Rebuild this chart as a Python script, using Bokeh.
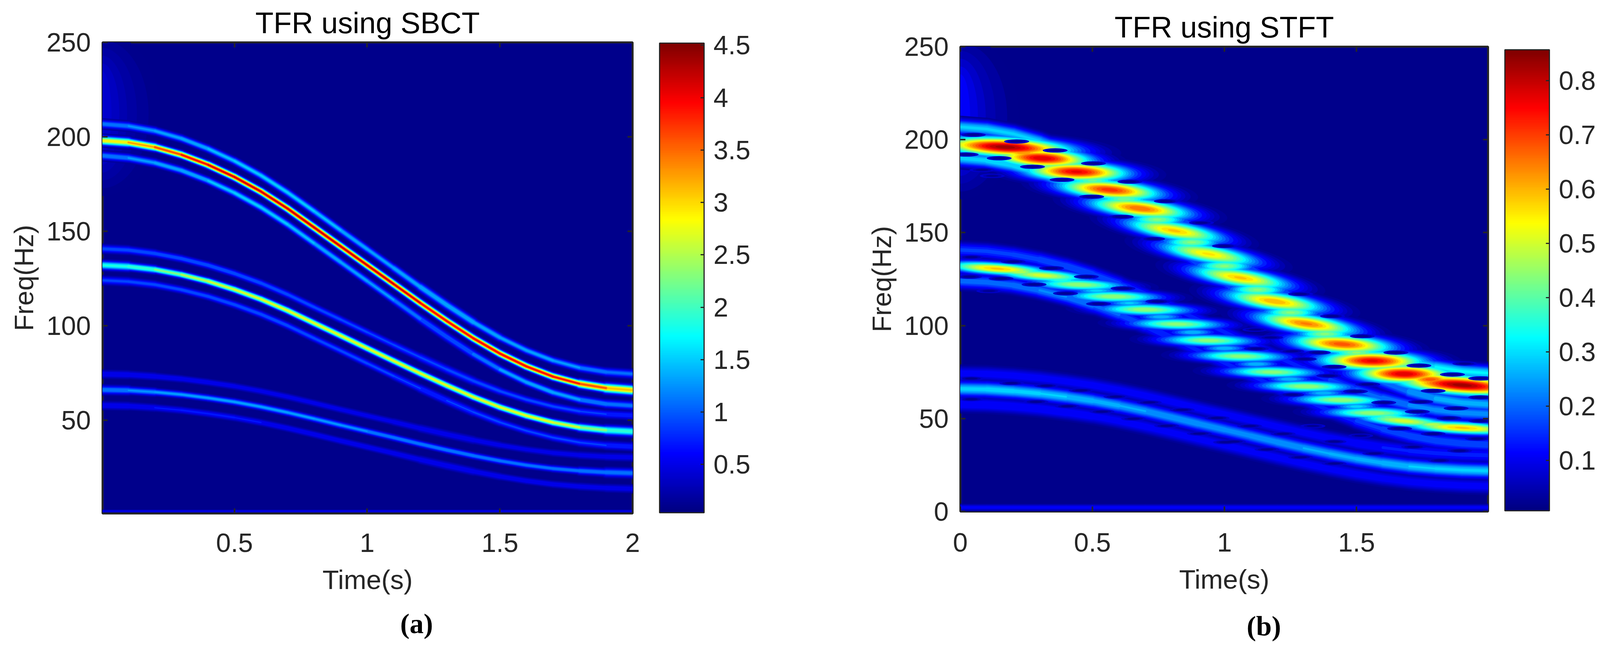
import math

from bokeh.embed import file_html
from bokeh.layouts import row
from bokeh.models import ColorBar, ColumnDataSource, FixedTicker, LinearAxis, LinearColorMapper, Range1d, Title
from bokeh.plotting import figure
from bokeh.resources import INLINE
from bokeh.transform import transform

# time grid the ridges were read at (s)
ridge_t = [0.0, 0.1, 0.2, 0.3, 0.4, 0.5, 0.6, 0.7, 0.8, 0.9, 1.0, 1.1, 1.2, 1.3, 1.4, 1.5, 1.6, 1.7, 1.8, 1.9, 2.0]

# ridge frequencies (Hz)
f3_up = [206.8, 205.7, 203.1, 199.1, 193.7, 187.2, 179.5, 170.5, 160.6, 150.5, 140.5, 130.5, 120.5, 110.9, 101.8, 93.7, 86.9, 81.5, 77.7, 75.4, 74.4]
f3_mid = [198, 197, 194.5, 190.5, 185.2, 178.7, 171, 162, 152, 142, 132, 122, 112, 102.4, 93.3, 85.2, 78.4, 73, 69.2, 66.9, 65.8]
f3_low = [190, 188.8, 186.2, 182.2, 176.8, 170.3, 162.6, 153.6, 143.6, 133.6, 123.6, 113.6, 103.6, 94, 84.9, 76.8, 70, 64.6, 60.8, 58.5, 57.6]
f2_up = [140.7, 140, 138.2, 135.5, 132, 127.6, 122.5, 116.5, 109.8, 103.2, 96.5, 89.8, 83.2, 76.8, 70.7, 65.3, 60.8, 57.2, 54.6, 53.1, 52.4]
f2_mid = [132, 131.3, 129.7, 127, 123.5, 119.1, 114, 108, 101.3, 94.7, 88, 81.3, 74.7, 68.3, 62.2, 56.8, 52.3, 48.7, 46.1, 44.6, 43.9]
f2_low = [124, 123.3, 121.7, 119, 115.5, 111.1, 106, 100, 93.3, 86.7, 80, 73.3, 66.7, 60.3, 54.2, 48.8, 44.3, 40.7, 38.1, 36.6, 35.9]
f1_up = [74.3, 74, 73.1, 71.8, 70, 67.9, 65.3, 62.3, 59, 55.6, 52.3, 49, 45.6, 42.4, 39.4, 36.7, 34.4, 32.6, 31.4, 30.6, 30.2]
f1_mid = [66, 65.7, 64.8, 63.5, 61.7, 59.6, 57, 54, 50.7, 47.3, 44, 40.7, 37.3, 34.1, 31.1, 28.4, 26.1, 24.3, 23.1, 22.3, 21.9]
f1_low = [57.7, 57.4, 56.5, 55.2, 53.4, 51.3, 48.7, 45.7, 42.4, 39, 35.7, 32.4, 29, 25.8, 22.8, 20.1, 17.8, 16, 14.8, 14, 13.6]
f0_floor = [1.8] * 21
f0_floor_stft = [2.2] * 21

# SBCT ridge strengths
a3_up = [1.2, 1.3, 1.35, 1.45, 1.5, 1.55, 1.6, 1.6, 1.55, 1.5, 1.4, 1.4, 1.5, 1.5, 1.5, 1.4, 1.45, 1.4, 1.3, 1.2, 1.15]
a3_mid = [2.8, 3.1, 3.6, 4.0, 4.2, 4.3, 4.3, 4.3, 4.35, 4.3, 4.3, 4.3, 4.2, 4.1, 4.2, 4.2, 4.2, 4.1, 3.95, 3.5, 3.0]
a3_low = [1.25, 1.3, 1.4, 1.5, 1.5, 1.6, 1.6, 1.55, 1.5, 1.4, 1.4, 1.3, 1.15, 1.05, 1.15, 1.35, 1.5, 1.45, 1.35, 1.25, 1.2]
a2_up = [1, 1.05, 1.05, 1.1, 1.1, 1.1, 1.05, 1.05, 1, 1, 0.95, 0.95, 0.95, 0.95, 1, 1, 1, 1, 0.95, 0.9, 0.85]
a2_mid = [1.85, 2.0, 2.2, 2.5, 2.7, 2.75, 2.8, 2.85, 2.85, 2.85, 2.85, 2.85, 2.85, 2.85, 2.85, 2.85, 2.85, 2.85, 2.6, 2.2, 1.9]
a2_low = [0.95, 1, 1, 1.05, 1.05, 1.05, 1.05, 1.05, 1, 1, 1, 0.95, 0.9, 0.9, 0.95, 0.95, 0.95, 0.95, 0.95, 0.9, 0.9]
a1_up = [0.7, 0.7, 0.7, 0.7, 0.7, 0.65, 0.65, 0.65, 0.65, 0.65, 0.65, 0.65, 0.65, 0.65, 0.65, 0.65, 0.65, 0.65, 0.65, 0.65, 0.65]
a1_mid = [1.25, 1.3, 1.35, 1.4, 1.4, 1.4, 1.4, 1.4, 1.35, 1.35, 1.3, 1.3, 1.3, 1.3, 1.3, 1.25, 1.25, 1.25, 1.25, 1.25, 1.2]
a1_low = [0.7, 0.7, 0.7, 0.75, 0.75, 0.75, 0.7, 0.7, 0.7, 0.7, 0.7, 0.7, 0.65, 0.7, 0.65, 0.7, 0.7, 0.7, 0.65, 0.65, 0.65]
a0_floor = [0.6] * 21

# SBCT ridge spread, pixels
s_mid = [8, 7, 6, 5.5, 5.5, 5.5, 5.5, 5.5, 5.5, 5.5, 5.5, 5.5, 5.5, 5.5, 5.5, 5.5, 5.5, 5.5, 6, 7.5, 8.5]
s_side = [7.5, 7, 6.5, 6, 6, 6, 6, 6, 6, 6, 6, 6, 7, 7.5, 7, 6, 6, 6, 6.5, 7, 7.5]
s_floor = [2.5] * 21

# STFT ribbon strengths
b3_up = [0.3, 0.3, 0.3, 0.3, 0.28, 0.25, 0.23, 0.22, 0.2, 0.2, 0.2, 0.2, 0.2, 0.2, 0.2, 0.2, 0.22, 0.27, 0.33, 0.33, 0.33]
b3_low = [0.3, 0.31, 0.32, 0.32, 0.29, 0.26, 0.23, 0.22, 0.2, 0.2, 0.2, 0.2, 0.2, 0.2, 0.2, 0.2, 0.22, 0.24, 0.28, 0.28, 0.28]
b2_up = [0.18, 0.18, 0.18, 0.19, 0.2, 0.2, 0.18, 0.16, 0.15, 0.15, 0.15, 0.15, 0.15, 0.15, 0.17, 0.2, 0.22, 0.24, 0.25, 0.25, 0.25]
b2_low = [0.22, 0.22, 0.22, 0.23, 0.24, 0.22, 0.2, 0.18, 0.15, 0.15, 0.15, 0.15, 0.15, 0.15, 0.15, 0.17, 0.19, 0.2, 0.2, 0.2, 0.2]
b1_up = [0.13, 0.13, 0.13, 0.13, 0.13, 0.13, 0.13, 0.13, 0.13, 0.13, 0.13, 0.13, 0.13, 0.13, 0.13, 0.14, 0.14, 0.15, 0.15, 0.15, 0.15]
b1_mid = [0.3, 0.31, 0.31, 0.3, 0.29, 0.28, 0.27, 0.26, 0.26, 0.26, 0.25, 0.25, 0.26, 0.26, 0.27, 0.27, 0.28, 0.29, 0.3, 0.3, 0.3]
b1_low = [0.14, 0.14, 0.14, 0.14, 0.14, 0.13, 0.13, 0.13, 0.13, 0.13, 0.13, 0.13, 0.13, 0.13, 0.13, 0.13, 0.13, 0.13, 0.13, 0.13, 0.13]
b0_floor = [0.125] * 21
w_ribbon = [13.5] * 21
w_floor = [6] * 21

# STFT blobs along the two strong ridges
blob3_t = [0.17, 0.31, 0.44, 0.565, 0.68, 0.81, 0.94, 1.06, 1.19, 1.31, 1.445, 1.56, 1.68, 1.90]
blob3_f = [196, 190, 182.7, 173, 163, 151, 138.5, 125.7, 113, 101, 90, 81, 74, 68]
blob3_a = [0.85, 0.8, 0.78, 0.73, 0.68, 0.6, 0.57, 0.6, 0.62, 0.66, 0.7, 0.78, 0.8, 0.85]
blob3_len = [115, 85, 90, 90, 90, 90, 90, 90, 90, 90, 90, 90, 85, 115]
blob3_deg = [-3, -3, -2, -5, -6.5, -9.5, -9.5, -9, -8, -8, -4, -1, -1, -4]
blob2_t = [0.14, 0.31, 0.45, 0.58, 0.70, 0.82, 0.94, 1.06, 1.18, 1.31, 1.44, 1.56, 1.68, 1.90]
blob2_f = [130.6, 127, 122, 115.6, 108.6, 100.8, 92, 83.5, 75, 67.3, 60, 53, 48.7, 45]
blob2_a = [0.6, 0.52, 0.47, 0.47, 0.47, 0.46, 0.46, 0.46, 0.46, 0.47, 0.47, 0.47, 0.52, 0.6]
blob2_len = [95, 87, 87, 87, 87, 87, 87, 87, 87, 87, 87, 87, 87, 105]
blob2_deg = [-4, -4, -2, -1, -1, -1, -1, -1, -1, -1, -1, -1, -5, -3]

# the green patches between two neighbouring blobs
saddle3_t = [0.24, 0.375, 0.50, 0.62, 0.745, 0.875, 1.0, 1.125, 1.25, 1.38, 1.50, 1.62, 1.78]
saddle3_f = [193, 186.5, 178, 168, 157, 144.8, 132, 119.3, 107, 95.5, 85.5, 77.5, 71]
saddle3_a = [0.65, 0.44, 0.42, 0.43, 0.45, 0.45, 0.45, 0.45, 0.45, 0.45, 0.45, 0.45, 0.7]
saddle2_t = [0.225, 0.38, 0.515, 0.64, 0.76, 0.88, 1.0, 1.12, 1.245, 1.375, 1.5, 1.62, 1.79]
saddle2_f = [128.8, 124.5, 118.8, 112.1, 104.7, 96.4, 87.8, 79.3, 71.2, 63.7, 56.5, 50.9, 46.8]
saddle2_a = [0.5, 0.38, 0.31, 0.3, 0.29, 0.29, 0.29, 0.29, 0.29, 0.29, 0.31, 0.42, 0.5]

# the small dark pockets between the STFT bands
pocket_t = [0.042, 0.194, 0.326, 0.458, 0.589, 0.715, 0.84, 0.972, 0.042, 0.286, 0.405, 0.536, 0.656, 0.781, 0.905, 1.004,
            1.288, 1.409, 1.115, 1.175, 1.522, 1.649, 1.355, 1.255, 1.302, 1.121, 1.395, 1.415, 1.736, 1.91, 1.863, 1.97,
            1.79, 1.97, 1.542, 1.496, 1.603, 1.743, 1.73, 1.877, 1.85, 1.97, 1.663, 1.79, 1.516, 1.255, 1.222, 1.335,
            1.161, 1.415, 1.716, 1.957, 1.89, 1.569, 1.816, 1.288, 1.415, 1.095, 1.034,
            0.049, 0.213, 0.359, 0.504, 0.642, 0.78, 0.913, 0.022, 0.147, 0.273, 0.082, 0.385, 0.121, 0.497, 0.609, 0.728,
            1.0, 0.042, 0.2, 0.345, 0.477, 0.616, 0.748, 0.035, 0.154, 0.279, 0.108, 0.398, 0.523]
pocket_f = [71.5, 69.1, 67.7, 65.2, 61.8, 58.7, 54.7, 50.3, 60.4, 59, 56.6, 53.7, 49.9, 46.1, 41.9, 37.3,
            117, 105.1, 97.8, 93.6, 94.3, 85.5, 85.5, 86.2, 82, 87.6, 73, 77.8, 78.5, 79.6, 73.7, 71.6,
            64.9, 61.4, 68.4, 64.6, 58.6, 59, 53.7, 55.5, 50.2, 48.8, 44.6, 41.8, 40.8, 62.8, 41.8, 46,
            33.4, 37.6, 34.8, 39.2, 32.7, 31.3, 27.5, 29.2, 25.8, 46, 37.6,
            202.6, 199, 194.2, 187.2, 177.4, 166.9, 155.3, 192, 190, 185.4, 183.7, 178.4, 180.5, 169.3, 158.5, 146.6,
            142.8, 136.8, 134.4, 130.9, 126.3, 120, 113, 126.3, 125.3, 122.1, 118.6, 117.3, 111.7]

# faint glow in the top left corner of each panel
glow_f = [212, 212, 212, 212, 212, 212]
glow_w = [300, 240, 180, 130, 90, 50]
glow_h = [420, 380, 340, 300, 260, 220]
glow_sbct = [0.1, 0.15, 0.2, 0.26, 0.32, 0.38]
glow_stft = [0.02, 0.035, 0.05, 0.07, 0.09, 0.11]

x_ticks_sbct = [0.5, 1, 1.5, 2]
x_ticks_stft = [0, 0.5, 1, 1.5]
y_ticks_sbct = [50, 100, 150, 200, 250]
y_ticks_stft = [0, 50, 100, 150, 200, 250]
bar_ticks_sbct = [0.5, 1, 1.5, 2, 2.5, 3, 3.5, 4, 4.5]
bar_ticks_stft = [0.1, 0.2, 0.3, 0.4, 0.5, 0.6, 0.7, 0.8]

FONT = "Liberation Sans"
DARK = "#262626"


def jet_palette(n=256):
    colors = []
    for i in range(n):
        q = i / (n - 1)
        r = min(max(min(4 * q - 1.5, 4.5 - 4 * q), 0), 1)
        g = min(max(min(4 * q - 0.5, 3.5 - 4 * q), 0), 1)
        b = min(max(min(4 * q + 0.5, 2.5 - 4 * q), 0), 1)
        colors.append("#%02x%02x%02x" % (round(r * 255), round(g * 255), round(b * 255)))
    return colors


def spread(peak, level):
    return math.sqrt(2 * math.log(peak / level))


def ribbon_rows(ridges, level):
    rows = {"x0": [], "y0": [], "x1": [], "y1": [], "lw": [], "level": []}
    for freq, amp, sigma in ridges:
        for i in range(len(ridge_t) - 1):
            a = (amp[i] + amp[i + 1]) / 2
            if a <= level:
                continue
            rows["x0"].append(ridge_t[i])
            rows["y0"].append(freq[i])
            rows["x1"].append(ridge_t[i + 1])
            rows["y1"].append(freq[i + 1])
            rows["lw"].append((sigma[i] + sigma[i + 1]) * spread(a, level))
            rows["level"].append(level)
    return rows


def blob_rows(blobs, level):
    rows = {"x": [], "y": [], "w": [], "h": [], "deg": [], "level": []}
    for ts, fs, amps, lens, degs, thick in blobs:
        for i in range(len(ts)):
            if amps[i] <= level:
                continue
            rows["x"].append(ts[i])
            rows["y"].append(fs[i])
            rows["w"].append(2 * lens[i] * spread(amps[i], level))
            rows["h"].append(2 * thick * spread(amps[i], level))
            rows["deg"].append(degs[i])
            rows["level"].append(level)
    return rows


def add_glow(p, levels, mapper):
    for f, w, h, level in zip(glow_f, glow_w, glow_h, levels):
        p.ellipse(x="x", y="y", width=dict(value=w, units="screen"), height=dict(value=h, units="screen"),
                  fill_color=transform("level", mapper), line_color=None,
                  source=ColumnDataSource(dict(x=[0], y=[f], level=[level])))


def make_panel(title, tag, tag_x, tag_gap, x_range, y_range, x_ticks, y_ticks, mapper, bar_ticks, left, top, frame_w,
               frame_h, right, bottom, bar_x, bar_y, bar_h, tick_gap, label_gap, nudge):
    p = figure(output_backend="svg", toolbar_location=None, x_range=Range1d(*x_range), y_range=Range1d(*y_range),
               frame_width=frame_w, frame_height=frame_h, min_border_left=left, min_border_top=top,
               min_border_right=right, min_border_bottom=bottom, title=title,
               x_axis_label="Time(s)", y_axis_label="Freq(Hz)", background_fill_color="#00008b",
               outline_line_color=DARK, outline_line_width=5, margin=(nudge, 0, 0, 0))
    p.grid.visible = False
    p.title.align = "center"
    p.title.text_font = FONT
    p.title.text_font_size = "76px"
    p.title.text_font_style = "normal"
    p.title.text_color = "black"
    p.title.standoff = 16

    for ax, ticks in ((p.xaxis[0], x_ticks), (p.yaxis[0], y_ticks)):
        ax.ticker = FixedTicker(ticks=ticks)
        ax.major_label_overrides = {v: ("%g" % v) for v in ticks}
        ax.major_label_text_font = FONT
        ax.major_label_text_font_size = "68px"
        ax.major_label_text_color = DARK
        ax.axis_label_text_font = FONT
        ax.axis_label_text_font_size = "69px"
        ax.axis_label_text_font_style = "normal"
        ax.axis_label_text_color = DARK
        ax.major_tick_in = 13
        ax.major_tick_out = 0
        ax.major_tick_line_color = DARK
        ax.major_tick_line_width = 4
        ax.minor_tick_line_color = None
        ax.axis_line_color = None
    p.xaxis[0].major_label_standoff = tick_gap
    p.xaxis[0].axis_label_standoff = label_gap
    p.yaxis[0].major_label_standoff = 30
    p.yaxis[0].axis_label_standoff = 16

    for side, ticks in (("above", x_ticks), ("right", y_ticks)):
        extra = LinearAxis(ticker=FixedTicker(ticks=ticks), major_label_overrides={v: "" for v in ticks},
                           major_tick_in=13, major_tick_out=0, major_tick_line_color=DARK, major_tick_line_width=4,
                           minor_tick_line_color=None, axis_line_color=None, major_label_standoff=0)
        p.add_layout(extra, side)

    bar = ColorBar(color_mapper=mapper, ticker=FixedTicker(ticks=bar_ticks),
                   major_label_overrides={v: ("%g" % v) for v in bar_ticks},
                   width=114, height=bar_h, padding=0, margin=0, location=(bar_x, bar_y),
                   major_label_text_font=FONT, major_label_text_font_size="68px", major_label_text_color=DARK,
                   major_tick_in=9, major_tick_line_color=DARK, major_tick_line_width=3, minor_tick_line_color=None,
                   bar_line_color=DARK, bar_line_width=3, label_standoff=24)
    p.add_layout(bar, "right")

    p.add_layout(Title(text=tag, align="left", offset=tag_x, text_font="Liberation Serif", text_font_size="72px",
                       text_font_style="bold", text_color="black", standoff=tag_gap), "below")
    return p


jet = jet_palette()
mapper_sbct = LinearColorMapper(palette=jet, low=0.04, high=4.52)
mapper_stft = LinearColorMapper(palette=jet, low=0.0075, high=0.857)

# SBCT panel: everything is stacked from the faintest level up
p1 = make_panel("TFR using SBCT", "(a)", 762, 58, (0.003, 2), (0.5, 250), x_ticks_sbct, y_ticks_sbct, mapper_sbct,
                bar_ticks_sbct, left=262, top=116, frame_w=1357, frame_h=1207, right=539, bottom=347,
                bar_x=69, bar_y=2, bar_h=1203, tick_gap=51, label_gap=30, nudge=-8)
add_glow(p1, glow_sbct, mapper_sbct)

sbct_ridges = [
    (f3_up, a3_up, s_side), (f3_mid, a3_mid, s_mid), (f3_low, a3_low, s_side),
    (f2_up, a2_up, s_side), (f2_mid, a2_mid, s_mid), (f2_low, a2_low, s_side),
    (f1_up, a1_up, s_side), (f1_mid, a1_mid, s_mid), (f1_low, a1_low, s_side),
    (f0_floor, a0_floor, s_floor),
]
sbct_levels = [0.15, 0.25, 0.35, 0.5, 0.7, 0.9, 1.1, 1.3, 1.5, 1.7, 1.9, 2.1, 2.3, 2.5, 2.7, 2.9, 3.1, 3.3, 3.6, 3.9, 4.2]
rows = {"x0": [], "y0": [], "x1": [], "y1": [], "lw": [], "level": []}
for level in sbct_levels:
    part = ribbon_rows(sbct_ridges, level)
    for key in rows:
        rows[key] += part[key]
p1.segment(x0="x0", y0="y0", x1="x1", y1="y1", line_width="lw", line_cap="round",
           line_color=transform("level", mapper_sbct), source=ColumnDataSource(rows))

# STFT panel
p2 = make_panel("TFR using STFT", "(b)", 733, 72, (0, 1.998), (0, 250), x_ticks_stft, y_ticks_stft, mapper_stft,
                bar_ticks_stft, left=300, top=105, frame_w=1351, frame_h=1191, right=292, bottom=369,
                bar_x=43, bar_y=2, bar_h=1181, tick_gap=55, label_gap=30, nudge=3)
add_glow(p2, glow_stft, mapper_stft)

stft_ridges = [
    (f3_up, b3_up, w_ribbon), (f3_low, b3_low, w_ribbon),
    (f2_up, b2_up, w_ribbon), (f2_low, b2_low, w_ribbon),
    (f1_up, b1_up, w_ribbon), (f1_mid, b1_mid, w_ribbon), (f1_low, b1_low, w_ribbon),
    (f0_floor_stft, b0_floor, w_floor),
]
stft_blobs = [
    (blob3_t, blob3_f, blob3_a, blob3_len, blob3_deg, 17),
    (blob2_t, blob2_f, blob2_a, blob2_len, blob2_deg, 11),
    (saddle3_t, saddle3_f, saddle3_a, [55] * 13, [0] * 13, 13),
    (saddle2_t, saddle2_f, saddle2_a, [45] * 13, [0] * 13, 8),
]
stft_levels = [0.03, 0.05, 0.07, 0.09, 0.11, 0.14, 0.17, 0.2, 0.23, 0.26, 0.29, 0.32, 0.35, 0.38, 0.41, 0.44, 0.47, 0.5,
               0.53, 0.56, 0.59, 0.62, 0.65, 0.68, 0.71, 0.74, 0.77, 0.8, 0.83]
for level in stft_levels:
    part = ribbon_rows(stft_ridges, level)
    if part["x0"]:
        p2.segment(x0="x0", y0="y0", x1="x1", y1="y1", line_width="lw", line_cap="round",
                   line_color=transform("level", mapper_stft), source=ColumnDataSource(part))
    part = blob_rows(stft_blobs, level)
    if part["x"]:
        p2.ellipse(x="x", y="y", width=dict(field="w", units="screen"), height=dict(field="h", units="screen"),
                   angle="deg", angle_units="deg", fill_color=transform("level", mapper_stft), line_color=None,
                   source=ColumnDataSource(part))

# dark pockets go on last, a soft edge first and then the core
for pocket_level, pocket_w, pocket_h in ((0.075, 64, 11), (0.05, 48, 8), (0.025, 32, 5)):
    p2.ellipse(x="x", y="y", width=dict(value=pocket_w, units="screen"), height=dict(value=pocket_h, units="screen"),
               fill_color=transform("level", mapper_stft), line_color=None,
               source=ColumnDataSource(dict(x=pocket_t, y=pocket_f, level=[pocket_level] * len(pocket_t))))

page = row(p1, p2, spacing=0)
open("out.html", "w").write(file_html(page, INLINE))
